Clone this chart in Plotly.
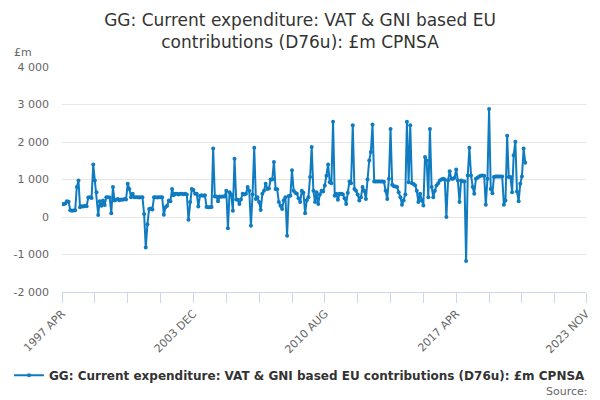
import plotly.graph_objects as go
import pandas as pd

title_text = "GG: Current expenditure: VAT & GNI based EU<br>contributions (D76u): £m CPNSA"
series_name = "GG: Current expenditure: VAT & GNI based EU contributions (D76u): £m CPNSA"
start_month = "1997-04"

values = [
    350, 340, 360, 420, 410, 180, 170, 175, 180, 800,
    975, 260, 290, 280, 300, 290, 520, 530, 510, 1400,
    975, 660, 55, 420, 300, 440, 320, 530, 530, 520,
    100, 800, 440, 460, 480, 450, 470, 460, 480, 470,
    890, 750, 530, 620, 530, 530, 530, 520, 530, 530,
    80, -815, -190, 215, 230, 200, 530, 530, 520, 530,
    530, 530, 60, 260, 300, 440, 420, 750, 580, 620,
    620, 600, 620, 620, 610, 620, 600, -70, 400, 750,
    720, 620, 620, 280, 570, 580, 570, 580, 270, 260,
    260, 270, 1825, 545, 550, 420, 545, 540, 550, 545,
    700, -300, 660, 600, 170, 1555, 465, 460, 350, 470,
    620, 600, 620, 800, 700, -230, 600, 1845, 480, 530,
    400, 190, 620, 700, 890, 750, 760, 1000, 1000, 1470,
    750, 740, 400, 300, 215, 450, 530, -500, 560, 570,
    1245, 700, 650, 620, 500, 400, 700, 650, 100, 450,
    530, 1065, 1870, 700, 400, 660, 350, 600, 700, 680,
    840, 1100, 1400, 930, 900, 2540, 570, 620, 460, 620,
    620, 610, 500, 350, 650, 950, 900, 2450, 750, 700,
    600, 440, 530, 800, 700, 480, 1000, 1510, 1735, 2470,
    950, 950, 950, 950, 950, 950, 940, 700, 480, 1020,
    2345, 860, 820, 815, 800, 660, 530, 330, 440, 600,
    2540, 930, 2450, 900, 880, 850, 700, 400, 620, 440,
    305, 1600, 1510, 530, 2345, 800, 530, 700, 840, 900,
    975, 1000, 1020, 1000, 0, 975, 1220, 1020, 1020, 1050,
    1270, 975, 400, 975, 955, 950, -1170, 1110, 1850, 1110,
    800, 620, 1020, 1050, 1080, 1100, 1110, 1100, 330, 1020,
    2880, 750, 635, 1065, 1080, 1080, 1080, 1080, 1080, 330,
    440, 2165, 1065, 1065, 660, 1650, 2010, 680, 420, 890,
    1080, 1825, 1450,
]

dates = pd.date_range(start_month, periods=len(values), freq="MS")

x_tick_dates = ["1997-04-01", "2003-12-01", "2010-08-01", "2017-04-01", "2023-11-01"]
x_tick_labels = ["1997 APR", "2003 DEC", "2010 AUG", "2017 APR", "2023 NOV"]
x_minor_dates = ["1998-12-01", "2000-08-01", "2002-04-01",
                 "2005-08-01", "2007-04-01", "2008-12-01",
                 "2012-04-01", "2013-12-01", "2015-08-01",
                 "2018-12-01", "2020-08-01", "2022-04-01"]
y_tick_vals = [-2000, -1000, 0, 1000, 2000, 3000, 4000]
y_tick_labels = ["-2 000", "-1 000", "0", "1 000", "2 000", "3 000", "4 000"]

color = "#0f7cc1"
font_family = "DejaVu Sans"

fig = go.Figure()
fig.add_trace(go.Scatter(
    x=dates, y=values, mode="lines+markers", name=series_name,
    line=dict(color=color, width=2),
    marker=dict(color=color, size=4),
))

fig.update_layout(
    width=600, height=400,
    margin=dict(l=62, r=14, t=67, b=108, autoexpand=False),
    paper_bgcolor="white", plot_bgcolor="white",
    font=dict(family=font_family, color="#666666", size=11),
    title=dict(text=title_text, x=0.5, xanchor="center", y=0.935, yanchor="middle",
               font=dict(family=font_family, size=17, color="#333333")),
    showlegend=True,
    legend=dict(orientation="h", xref="container", x=0.5, xanchor="center",
                y=-0.37, yanchor="middle", itemwidth=30,
                font=dict(family=font_family, size=12, color="#333333", weight="bold")),
    xaxis=dict(
        type="date", range=["1997-04-01", "2023-11-01"],
        tickmode="array", tickvals=x_tick_dates, ticktext=x_tick_labels,
        tickangle=-45, ticks="outside", ticklen=10, tickcolor="#ccd6eb",
        showline=True, linecolor="#ccd6eb", linewidth=1,
        showgrid=False, zeroline=False,
        tickfont=dict(size=11, color="#666666"),
        minor=dict(tickmode="array", tickvals=x_minor_dates, ticks="outside",
                   ticklen=10, tickcolor="#ccd6eb", showgrid=False),
    ),
    yaxis=dict(
        range=[-2000, 4000], tickmode="array", tickvals=y_tick_vals, ticktext=y_tick_labels,
        showgrid=True, gridcolor="#e6e6e6", gridwidth=1, zeroline=False,
        ticks="", ticklabelstandoff=12, tickfont=dict(size=11, color="#666666"),
    ),
    annotations=[
        dict(text="£m", xref="paper", yref="paper", x=-0.095, y=1.065,
             xanchor="left", yanchor="middle", showarrow=False,
             font=dict(size=11, color="#666666")),
        dict(text="Source:", xref="paper", yref="paper", x=1.008, y=-0.441,
             xanchor="right", yanchor="middle", showarrow=False,
             font=dict(size=11, color="#666666")),
    ],
)

fig.write_html("out.html")
